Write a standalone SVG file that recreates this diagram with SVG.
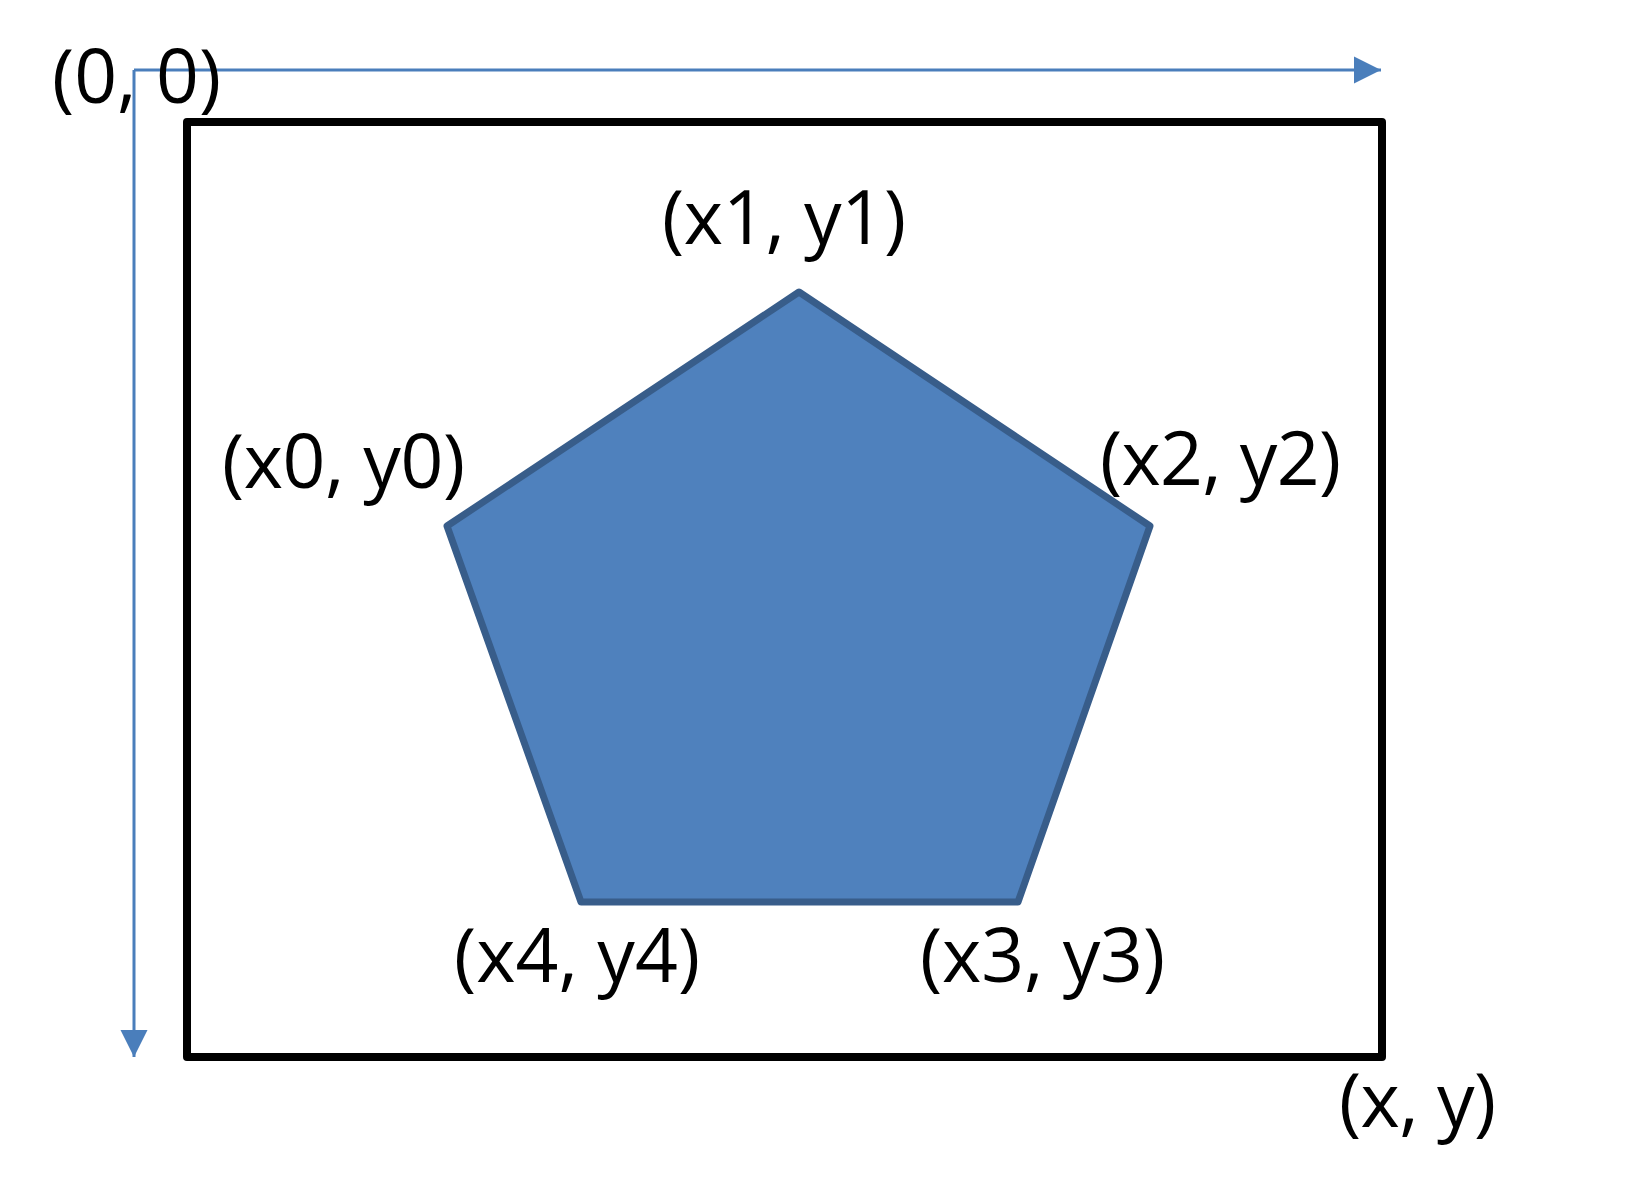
<svg xmlns="http://www.w3.org/2000/svg" width="1642" height="1199" viewBox="0 0 1642 1199">
  <style>
    .lbl { font-family: "Open Sans", "Lato", "Liberation Sans", sans-serif; font-size: 75px; fill: #000000; }
    .axis { fill: none; stroke: #4A7EBB; stroke-width: 3; }
    .frame { fill: none; stroke: #000000; stroke-width: 8; stroke-linejoin: round; }
    .poly { fill: #4F81BD; stroke: #385D8A; stroke-width: 7; stroke-linejoin: round; }
  </style>
  <defs>
    <marker id="arrow" markerUnits="userSpaceOnUse" markerWidth="28" markerHeight="28" viewBox="0 0 28 28" refX="27" refY="14" orient="auto">
      <polygon points="0,0.5 27,14 0,27.5" fill="#4A7EBB"/>
    </marker>
  </defs>
  <rect width="1642" height="1199" fill="#FFFFFF"/>

  <g id="frame">
    <rect class="frame" x="187" y="122" width="1195" height="935"/>
  </g>

  <g id="pentagon">
    <polygon class="poly" points="799,292 1150,526 1018,902 581,902 447,526"/>
  </g>

  <g id="connectors">
    <path class="axis" d="M134,70 H1381" marker-end="url(#arrow)"/>
    <path class="axis" d="M134,70 V1057" marker-end="url(#arrow)"/>
  </g>

  <g id="label-origin">
    <text class="lbl" x="52" y="103" textLength="169" lengthAdjust="spacing">(0, 0)</text>
  </g>
  <g id="label-p1">
    <text class="lbl" x="662" y="244" textLength="244" lengthAdjust="spacing">(x1, y1)</text>
  </g>
  <g id="label-p0">
    <text class="lbl" x="222" y="488" textLength="243" lengthAdjust="spacing">(x0, y0)</text>
  </g>
  <g id="label-p2">
    <text class="lbl" x="1100" y="485" textLength="241" lengthAdjust="spacing">(x2, y2)</text>
  </g>
  <g id="label-p4">
    <text class="lbl" x="454" y="982" textLength="246" lengthAdjust="spacing">(x4, y4)</text>
  </g>
  <g id="label-p3">
    <text class="lbl" x="920" y="982" textLength="245" lengthAdjust="spacing">(x3, y3)</text>
  </g>
  <g id="label-end">
    <text class="lbl" x="1339" y="1127" textLength="157" lengthAdjust="spacing">(x, y)</text>
  </g>
</svg>
